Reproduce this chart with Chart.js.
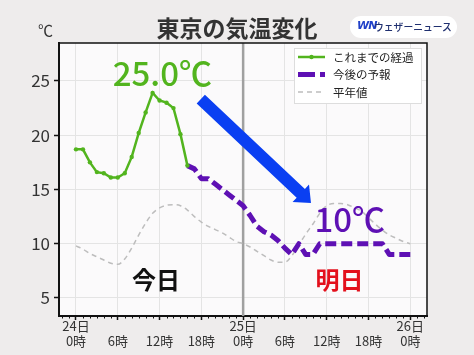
<!DOCTYPE html>
<html><head><meta charset="utf-8">
<script src="https://cdn.jsdelivr.net/npm/chart.js@4/dist/chart.umd.min.js"></script>
<style>
html,body{margin:0;padding:0;background:#EEECEC;}
#wrap{position:relative;width:474px;height:355px;overflow:hidden;background:#EEECEC;}
#c{position:absolute;left:0;top:0;}
.title{position:absolute;left:0;top:10px;width:474px;text-align:center;font:bold 23px "Noto Sans CJK JP",sans-serif;color:#333;letter-spacing:0px;}
.unit{position:absolute;left:38px;top:19px;font:15px "Noto Sans CJK JP",sans-serif;color:#333;}
.logo{position:absolute;left:350px;top:16px;width:107px;height:22px;border-radius:11px;background:#fff;white-space:nowrap;}
.logo .wn{position:absolute;left:7px;top:3px;font:italic 900 11px "DejaVu Sans",sans-serif;color:#2040C8;letter-spacing:-1px;}
.logo .tx{position:absolute;left:24px;top:4px;font:500 9.8px "Noto Sans CJK JP",sans-serif;color:#1F2F6F;}
</style></head>
<body><div id="wrap">
<canvas id="c" width="474" height="355"></canvas>
<div class="title">東京の気温変化</div>
<div class="unit">℃</div>
<div class="logo"><span class="wn">WN</span><span class="tx">ウェザーニュース</span></div>
</div>
<script>
// ---- data ----
const hoursObs = [0,1,2,3,4,5,6,7,8,9,10,11,12,13,14,15,16];
const tempObs  = [18.7,18.7,17.5,16.6,16.5,16.1,16.1,16.5,18.0,20.2,22.1,23.9,23.2,23.0,22.5,20.1,17.2];
const hoursFc  = [16,17,18,19,20,21,22,23,24,25,26,27,28,29,30,31,32,33,34,35,36,37,38,39,40,41,42,43,44,45,46,47,48];
const tempFc   = [17.2,16.9,16.0,16.0,15.5,15.0,14.5,14.0,13.5,12.6,11.6,11.1,10.8,10.3,9.6,9.0,10.0,9.0,9.0,10.0,10.0,10.0,10.0,10.0,10.0,10.0,10.0,10.0,10.0,9.0,9.0,9.0,9.0];
const hoursNorm = [0,1,2,3,4,5,6,7,8,9,10,11,12,13,14,15,16,17,18,19,20,21,22,23,24,25,26,27,28,29,30,31,32,33,34,35,36,37,38,39,40,41,42,43,44,45,46,47,48];
const tempNorm  = [9.8,9.5,9.1,8.8,8.5,8.2,8.1,8.6,9.6,10.8,11.9,12.8,13.3,13.55,13.6,13.5,13.1,12.5,12.0,11.6,11.3,11.0,10.6,10.2,10.0,9.7,9.3,8.9,8.5,8.3,8.3,8.9,9.9,10.9,11.8,12.8,13.5,13.7,13.7,13.6,13.3,13.0,12.4,11.8,11.25,10.8,10.5,10.2,10.0];
const xTickHours = [0,6,12,18,24,30,36,42,48];
const xTickDay   = ['24日','','','','25日','','','','26日'];
const xTickTime  = ['0時','6時','12時','18時','0時','6時','12時','18時','0時'];
const yTicks = [5,10,15,20,25];
const seriesNames = ['これまでの経過','今後の予報','平年値'];
const maxLabel = '25.0℃';
const minLabel = '10℃';
const dayLabels = ['今日','明日'];

const FONT = '"Noto Sans CJK JP","Noto Sans",sans-serif';
const GREEN = '#52B41E', PURPLE = '#5E10B4', GRAY = '#BDBDBD', BLUE = '#0A3FF2', RED = '#E3101C';

const pts = (xs, ys) => xs.map((x, i) => ({x, y: ys[i]}));

const decor = {
  id: 'decor',
  beforeDraw(chart) {
    const {ctx, chartArea: a} = chart;
    ctx.save();
    ctx.fillStyle = '#FBFAFB';
    ctx.fillRect(a.left, a.top, a.right - a.left, a.bottom - a.top);
    ctx.restore();
  },
  beforeDatasetsDraw(chart) {
    const {ctx, chartArea: a, scales: {x}} = chart;
    const px = x.getPixelForValue(24);
    ctx.save();
    ctx.strokeStyle = '#A0A0A0';
    ctx.lineWidth = 2.5;
    ctx.beginPath(); ctx.moveTo(px, a.top); ctx.lineTo(px, a.bottom); ctx.stroke();
    ctx.restore();
  },
  afterDatasetsDraw(chart) {
    const {ctx, chartArea: a, scales: {x, y}} = chart;
    ctx.save();
    // frame top/right
    ctx.strokeStyle = '#111'; ctx.lineWidth = 1.5;
    ctx.beginPath(); ctx.moveTo(a.left, a.top); ctx.lineTo(a.right, a.top); ctx.lineTo(a.right, a.bottom); ctx.stroke();
    // minor ticks
    ctx.lineWidth = 1; ctx.strokeStyle = '#111';
    for (let h = Math.ceil(x.min); h <= x.max; h++) {
      if (xTickHours.includes(h)) continue;
      const px = Math.round(x.getPixelForValue(h)) + 0.5;
      ctx.beginPath(); ctx.moveTo(px, a.bottom); ctx.lineTo(px, a.bottom + 2.5); ctx.stroke();
    }
    // arrow
    const t0 = {x: x.getPixelForValue(17.92), y: y.getPixelForValue(23.32)};
    const t1 = {x: x.getPixelForValue(33.74), y: y.getPixelForValue(13.76)};
    const dx = t1.x - t0.x, dy = t1.y - t0.y, L = Math.hypot(dx, dy);
    const ux = dx / L, uy = dy / L, nx = -uy, ny = ux;
    const sw = 6, hw = 12, hl = 14;
    const bx = t1.x - ux * hl, by = t1.y - uy * hl;
    ctx.fillStyle = BLUE;
    ctx.beginPath();
    ctx.moveTo(t0.x + nx * sw, t0.y + ny * sw);
    ctx.lineTo(bx + nx * sw, by + ny * sw);
    ctx.lineTo(bx + nx * hw, by + ny * hw);
    ctx.lineTo(t1.x, t1.y);
    ctx.lineTo(bx - nx * hw, by - ny * hw);
    ctx.lineTo(bx - nx * sw, by - ny * sw);
    ctx.lineTo(t0.x - nx * sw, t0.y - ny * sw);
    ctx.closePath(); ctx.fill();
    // big labels
    ctx.textAlign = 'center'; ctx.textBaseline = 'middle';
    ctx.font = '500 33px ' + FONT; ctx.fillStyle = GREEN;
    ctx.fillText(maxLabel, x.getPixelForValue(12.4), y.getPixelForValue(25.7));
    ctx.font = '500 33px ' + FONT; ctx.fillStyle = PURPLE;
    ctx.fillText(minLabel, x.getPixelForValue(39.3), y.getPixelForValue(12.2));
    ctx.font = 'bold 24px ' + FONT;
    ctx.fillStyle = '#111';
    ctx.fillText(dayLabels[0], x.getPixelForValue(11.5), y.getPixelForValue(6.67));
    ctx.fillStyle = RED;
    ctx.fillText(dayLabels[1], x.getPixelForValue(37.83), y.getPixelForValue(6.67));
    // legend
    const lx = a.right - 133, ly = a.top + 5, lw = 128, lh = 56;
    ctx.fillStyle = '#FFFFFF'; ctx.strokeStyle = '#DDDDDD'; ctx.lineWidth = 1;
    ctx.fillRect(lx, ly, lw, lh); ctx.strokeRect(lx + 0.5, ly + 0.5, lw - 1, lh - 1);
    const rows = [ly + 9, ly + 26.5, ly + 44];
    const sx0 = lx + 4, sx1 = lx + 31;
    const ds = chart.data.datasets;
    // green
    ctx.strokeStyle = ds[0].borderColor; ctx.lineWidth = 2.5; ctx.setLineDash([]);
    ctx.beginPath(); ctx.moveTo(sx0, rows[0]); ctx.lineTo(sx1, rows[0]); ctx.stroke();
    ctx.fillStyle = ds[0].borderColor; ctx.beginPath(); ctx.arc((sx0 + sx1) / 2, rows[0], 2.2, 0, Math.PI * 2); ctx.fill();
    // purple
    ctx.strokeStyle = ds[1].borderColor; ctx.lineWidth = 5; ctx.setLineDash([17, 5]); ctx.lineCap = 'butt';
    ctx.beginPath(); ctx.moveTo(sx0, rows[1]); ctx.lineTo(sx1, rows[1]); ctx.stroke();
    // gray
    ctx.strokeStyle = ds[2].borderColor; ctx.lineWidth = 1.5; ctx.setLineDash([5, 4]);
    ctx.beginPath(); ctx.moveTo(sx0, rows[2]); ctx.lineTo(sx1, rows[2]); ctx.stroke();
    ctx.setLineDash([]);
    ctx.fillStyle = '#222'; ctx.font = '11.5px ' + FONT; ctx.textAlign = 'left';
    seriesNames.forEach((n, i) => ctx.fillText(n, lx + 39, rows[i] + 0.5));
    ctx.restore();
  }
};

new Chart(document.getElementById('c'), {
  type: 'line',
  data: {
    datasets: [
      {label: seriesNames[0], data: pts(hoursObs, tempObs), borderColor: GREEN, backgroundColor: GREEN,
       borderWidth: 2.5, pointRadius: 2.2, pointHoverRadius: 2.2, pointBorderWidth: 0, tension: 0, order: 0},
      {label: seriesNames[1], data: pts(hoursFc, tempFc), borderColor: PURPLE, backgroundColor: PURPLE,
       borderWidth: 5, borderDash: [11, 5], pointRadius: 0, tension: 0, borderJoinStyle: 'round', order: 1},
      {label: seriesNames[2], data: pts(hoursNorm, tempNorm), borderColor: GRAY, backgroundColor: GRAY,
       borderWidth: 1.5, borderDash: [5, 4], pointRadius: 0, cubicInterpolationMode: 'monotone', order: 2}
    ]
  },
  options: {
    responsive: false, animation: false, events: [],
    layout: {padding: {left: 0, right: 47, top: 43, bottom: 0}},
    plugins: {legend: {display: false}, title: {display: false}, tooltip: {enabled: false}},
    scales: {
      x: {
        type: 'linear', min: -2.44, max: 50.4,
        afterBuildTicks: s => { s.ticks = xTickHours.map(v => ({value: v})); },
        afterFit: s => { s.height = 39; },
        grid: {color: '#E4E4E4', lineWidth: 1, tickLength: 4, tickColor: '#111', tickWidth: 1.5},
        border: {color: '#111', width: 2},
        ticks: {
          autoSkip: false, maxRotation: 0, minRotation: 0, padding: -1, color: '#333',
          font: {family: FONT, size: 13, lineHeight: 1.15},
          callback: v => { const i = xTickHours.indexOf(v); return i < 0 ? '' : [xTickDay[i], xTickTime[i]]; }
        }
      },
      y: {
        type: 'linear', min: 3.34, max: 28.5,
        afterBuildTicks: s => { s.ticks = yTicks.map(v => ({value: v})); },
        afterFit: s => { s.width = 59; },
        grid: {color: '#E4E4E4', lineWidth: 1, tickLength: 5, tickColor: '#111', tickWidth: 1.5},
        border: {color: '#111', width: 2},
        ticks: {padding: 4, color: '#333', font: {family: FONT, size: 17}}
      }
    }
  },
  plugins: [decor]
});
</script>
</body></html>
